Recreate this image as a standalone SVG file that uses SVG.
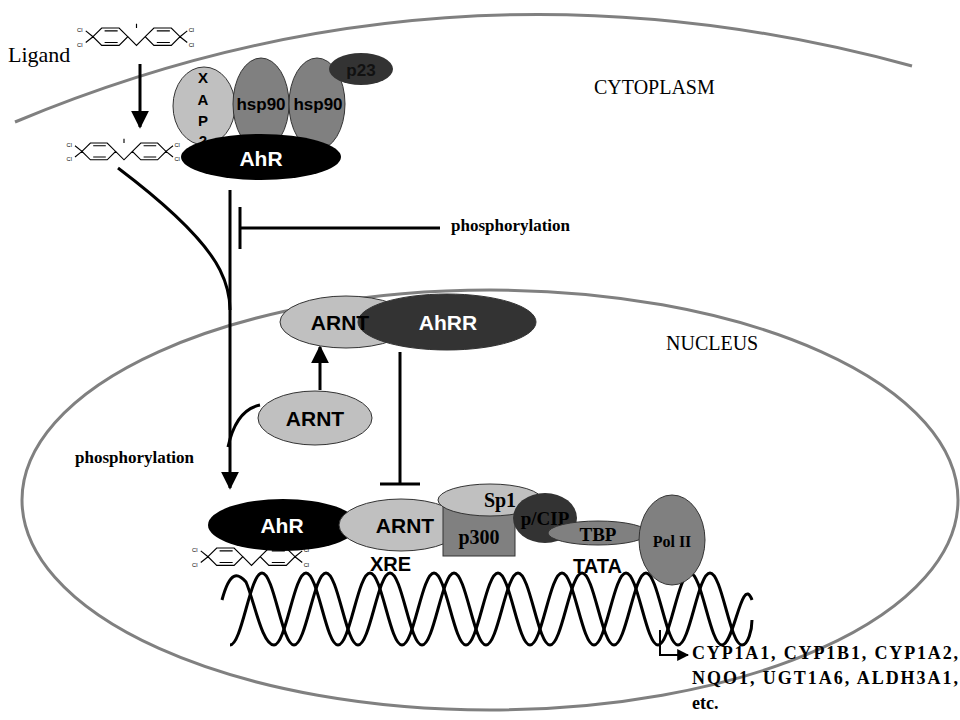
<svg xmlns="http://www.w3.org/2000/svg" width="960" height="720" viewBox="0 0 960 720">
<defs>
<style>
.ln{fill:none;stroke:#000;stroke-width:3}
.mem{fill:none;stroke:#808080;stroke-width:3}
.sans{font-family:"Liberation Sans",Arial,sans-serif;font-weight:bold}
.serif{font-family:"Liberation Serif","Times New Roman",serif}
.mol{fill:none;stroke:#000;stroke-width:0.8}
.o{stroke:#333;stroke-width:1}
</style>
<marker id="ah" viewBox="0 0 10 10" refX="9" refY="5" markerWidth="6" markerHeight="6" orient="auto"><path d="M0,0L10,5L0,10z" fill="#000"/></marker>
<g id="molecule">
<path class="mol" d="M0,6 L6,0 L18,0 L24,6 L18,12 L6,12 Z M8,2 L17,2 M8,10 L17,10 M24,6 L30,12 L36,6 M30,0 L30,-3 M36,6 L42,0 L54,0 L60,6 L54,12 L42,12 Z M44,2 L53,2 M44,10 L53,10 M0,6 L-5,2 M0,6 L-5,10 M60,6 L65,2 M60,6 L65,10"/>
<text x="-11" y="3" font-size="4" font-family="Liberation Sans,sans-serif">Cl</text>
<text x="-11" y="13" font-size="4" font-family="Liberation Sans,sans-serif">Cl</text>
<text x="66" y="3" font-size="4" font-family="Liberation Sans,sans-serif">Cl</text>
<text x="66" y="13" font-size="4" font-family="Liberation Sans,sans-serif">Cl</text>
</g>
</defs>
<rect width="960" height="720" fill="#fff"/>
<g id="membranes">
<path class="mem" d="M15,122 Q450,-60 912,66"/>
<ellipse class="mem" cx="490" cy="500" rx="468" ry="210"/>
</g>
<g id="labels" class="serif">
<text x="8" y="62" font-size="22">Ligand</text>
<text x="594" y="94" font-size="20">CYTOPLASM</text>
<text x="666" y="350" font-size="20">NUCLEUS</text>
<text x="451" y="231" font-size="17" font-weight="bold">phosphorylation</text>
<text x="75" y="463" font-size="17" font-weight="bold">phosphorylation</text>
<text x="692" y="659" font-size="18" font-weight="bold" textLength="266">CYP1A1, CYP1B1, CYP1A2,</text>
<text x="692" y="684" font-size="18" font-weight="bold" textLength="266">NQO1, UGT1A6, ALDH3A1,</text>
<text x="692" y="709" font-size="18" font-weight="bold">etc.</text>
</g>
<g id="ligands">
<use href="#molecule" transform="translate(93,28) scale(1.45)"/>
<use href="#molecule" transform="translate(82,143) scale(1.4)"/>
<use href="#molecule" transform="translate(208,548) scale(1.45)"/>
</g>
<g id="connectors">
<line class="ln" x1="140" y1="64" x2="140" y2="127" marker-end="url(#ah)"/>
<path class="ln" d="M118,168 Q200,230 220,270 Q230,290 230,310"/>
<line class="ln" x1="230" y1="190" x2="230" y2="488" marker-end="url(#ah)"/>
<line class="ln" x1="240" y1="228" x2="440" y2="228"/>
<line class="ln" x1="240" y1="207" x2="240" y2="249"/>
<path class="ln" d="M228,447 Q236,410 260,405"/>
<line class="ln" x1="320" y1="390" x2="320" y2="347" marker-end="url(#ah)"/>
<line class="ln" x1="400" y1="352" x2="400" y2="484"/>
<line class="ln" x1="380" y1="484" x2="420" y2="484"/>
<path fill="none" stroke="#000" stroke-width="2" d="M660,630 L660,655 L688,655" marker-end="url(#ah)"/>
</g>
<g id="dna" fill="none" stroke="#000" stroke-width="3">
<path d="M222,600 C230,570 238,573 246,582 C254,600 262,645 274,645 C286,645 294,573 306,573 C318,573 326,645 338,645 C350,645 358,573 370,573 C382,573 390,645 402,645 C414,645 422,573 434,573 C446,573 454,645 466,645 C478,645 486,573 498,573 C510,573 518,645 530,645 C542,645 550,573 562,573 C574,573 582,645 594,645 C606,645 614,573 626,573 C638,573 646,645 658,645 C670,645 678,573 690,573 C702,573 710,645 722,645 C734,645 742,573 752,600"/>
<path d="M230,645 C242,645 250,573 262,573 C274,573 282,645 294,645 C306,645 314,573 326,573 C338,573 346,645 358,645 C370,645 378,573 390,573 C402,573 410,645 422,645 C434,645 442,573 454,573 C466,573 474,645 486,645 C498,645 506,573 518,573 C530,573 538,645 550,645 C562,645 570,573 582,573 C594,573 602,645 614,645 C626,645 634,573 646,573 C658,573 666,645 678,645 C690,645 698,573 710,573 C722,573 730,645 742,645 C748,645 752,630 752,620"/>
</g>
<g id="cyto-complex">
<ellipse class="o" cx="204" cy="106" rx="31" ry="39" fill="#c0c0c0"/>
<text class="sans" x="203" y="83" font-size="15" text-anchor="middle">X</text>
<text class="sans" x="203" y="105" font-size="15" text-anchor="middle">A</text>
<text class="sans" x="203" y="126" font-size="15" text-anchor="middle">P</text>
<text class="sans" x="203" y="146" font-size="15" text-anchor="middle">2</text>
<ellipse class="o" cx="261" cy="104" rx="28" ry="46" fill="#808080"/>
<ellipse class="o" cx="317" cy="104" rx="28" ry="46" fill="#808080"/>
<text class="sans" x="261" y="110" font-size="17" text-anchor="middle">hsp90</text>
<text class="sans" x="318" y="110" font-size="17" text-anchor="middle">hsp90</text>
<ellipse cx="361" cy="69" rx="32" ry="16" fill="#333"/>
<text class="sans" x="361" y="76" font-size="17" text-anchor="middle" fill="#111">p23</text>
<ellipse cx="261" cy="157" rx="80" ry="23" fill="#000"/>
<text class="sans" x="261" y="166" font-size="21" text-anchor="middle" fill="#fff">AhR</text>
</g>
<g id="arnt-ahrr">
<ellipse class="o" cx="346" cy="322" rx="66" ry="26" fill="#c0c0c0"/>
<ellipse class="o" cx="447" cy="322" rx="89" ry="28" fill="#333"/>
<text class="sans" x="340" y="330" font-size="21" text-anchor="middle">ARNT</text>
<text class="sans" x="448" y="330" font-size="21" text-anchor="middle" fill="#fff">AhRR</text>
</g>
<g id="arnt-free">
<ellipse class="o" cx="315" cy="418" rx="57" ry="27" fill="#c0c0c0"/>
<text class="sans" x="315" y="426" font-size="21" text-anchor="middle">ARNT</text>
</g>
<g id="nuclear-complex">
<ellipse cx="283" cy="525" rx="75" ry="26" fill="#000"/>
<text class="sans" x="282" y="533" font-size="21" text-anchor="middle" fill="#fff">AhR</text>
<ellipse class="o" cx="401" cy="525" rx="62" ry="26" fill="#c0c0c0"/>
<text class="sans" x="405" y="533" font-size="21" text-anchor="middle">ARNT</text>
<rect class="o" x="443" y="506" width="72" height="50" fill="#808080"/>
<text class="serif" x="479" y="544" font-size="20" font-weight="bold" text-anchor="middle">p300</text>
<ellipse class="o" cx="490" cy="500" rx="52" ry="16" fill="#c0c0c0"/>
<text class="serif" x="500" y="507" font-size="20" font-weight="bold" text-anchor="middle">Sp1</text>
<ellipse cx="545" cy="518" rx="32" ry="25" fill="#333"/>
<text class="serif" x="545" y="525" font-size="19" font-weight="bold" text-anchor="middle">p/CIP</text>
<ellipse class="o" cx="598" cy="533" rx="50" ry="12" fill="#808080"/>
<text class="serif" x="598" y="541" font-size="19" font-weight="bold" text-anchor="middle">TBP</text>
<ellipse class="o" cx="672" cy="540" rx="33" ry="45" fill="#808080"/>
<text class="serif" x="672" y="547" font-size="16" font-weight="bold" text-anchor="middle">Pol II</text>
<text class="sans" x="370" y="571" font-size="20">XRE</text>
<text class="sans" x="573" y="573" font-size="20">TATA</text>
</g>
</svg>
